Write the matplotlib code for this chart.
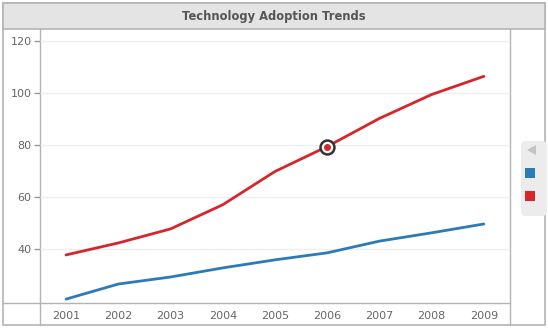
import matplotlib
matplotlib.use("Agg")
import matplotlib.pyplot as plt
from matplotlib.patches import Rectangle, FancyBboxPatch, Polygon

# ========== data ==========
years = [2001, 2002, 2003, 2004, 2005, 2006, 2007, 2008, 2009]
blue_vals = [20.7, 26.5, 29.2, 32.7, 35.8, 38.5, 43.0, 46.2, 49.6]
red_vals = [37.7, 42.3, 47.7, 57.0, 69.8, 79.4, 90.2, 99.4, 106.4]
y_ticks = [40, 60, 80, 100, 120]
title = "Technology Adoption Trends"
hl_idx = 5  # highlighted point (2006, red)

W, H = 548, 329
blue = "#2c7bb6"
red = "#d7262b"
frame = "#b4b4b4"
txt = "#666666"

fig = plt.figure(figsize=(W / 100, H / 100), dpi=100)

# background layer in pixel coords
bg = fig.add_axes([0, 0, 1, 1])
bg.set_xlim(0, W)
bg.set_ylim(H, 0)
bg.axis("off")
bg.add_patch(Rectangle((3, 3), 542, 322, fc="white", ec=frame, lw=1.2))
bg.add_patch(Rectangle((3, 3), 542, 26, fc="#e4e4e4", ec=frame, lw=1.2))
bg.plot([40, 40], [29, 325], color=frame, lw=1)
bg.plot([510, 510], [29, 325], color=frame, lw=1)
bg.plot([3, 510], [303, 303], color=frame, lw=1)
bg.text(W / 2, 16.5, title, ha="center", va="center", fontsize=8.3,
        fontweight="bold", color="#555555")

# legend box on the right
bg.add_patch(FancyBboxPatch((521, 141), 26, 75, boxstyle="round,pad=0,rounding_size=5",
                            fc="#ececec", ec="none"))
bg.add_patch(Polygon([[536, 145], [536, 155], [527, 150]], closed=True, fc="#c4c4c4", ec="none"))
bg.add_patch(Rectangle((525, 168), 10, 10, fc=blue, ec="none"))
bg.add_patch(Rectangle((525, 191), 10, 10, fc=red, ec="none"))

# main plot area
x0, x1, yt, yb = 40, 510, 29, 303
ax = fig.add_axes([x0 / W, 1 - yb / H, (x1 - x0) / W, (yb - yt) / H])
ax.patch.set_alpha(0)
ax.set_xlim(2000.5, 2009.5)
ax.set_ylim(19.2, 124.6)
for s in ax.spines.values():
    s.set_visible(False)

for v in y_ticks:
    ax.axhline(v, color="#efefef", lw=1, zorder=0)

ax.plot(years, blue_vals, color=blue, lw=2, solid_capstyle="round")
ax.plot(years, red_vals, color=red, lw=2, solid_capstyle="round")

# highlighted point
ax.plot(years[hl_idx], red_vals[hl_idx], "o", ms=10, mfc="white", mec="#333333", mew=1.8)
ax.plot(years[hl_idx], red_vals[hl_idx], "o", ms=4, mfc=red, mec=red)

ax.set_yticks(y_ticks)
ax.set_yticklabels([str(v) for v in y_ticks])
ax.tick_params(axis="y", length=4, width=1, color="#999999", labelcolor=txt,
               labelsize=8, pad=2)
ax.set_xticks(years)
ax.set_xticklabels([str(y) for y in years])
ax.tick_params(axis="x", length=0, labelcolor=txt, labelsize=8, pad=6)

fig.savefig("out.png", dpi=100)
